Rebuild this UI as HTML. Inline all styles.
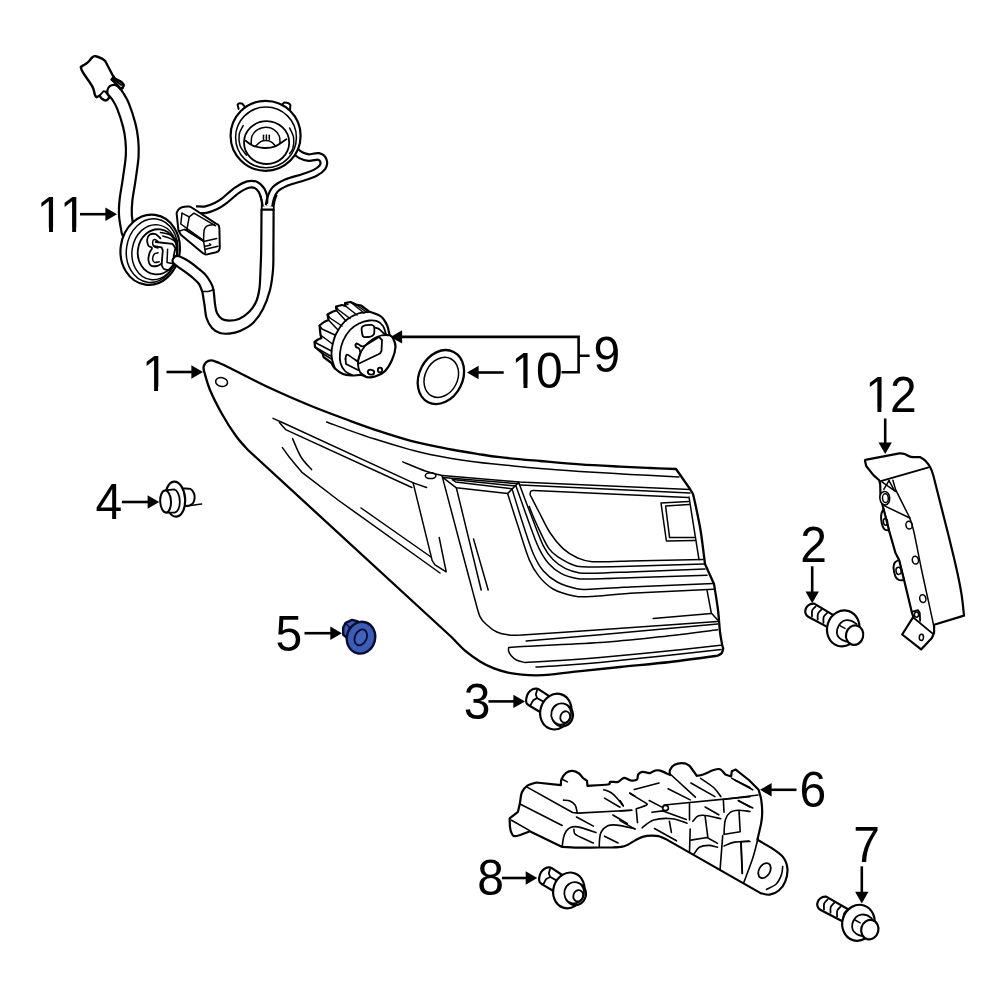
<!DOCTYPE html>
<html>
<head>
<meta charset="utf-8">
<title>Tail lamp parts diagram</title>
<style>
html,body{margin:0;padding:0;background:#fff;}
body{width:1000px;height:1000px;overflow:hidden;}
svg{display:block;will-change:transform;}
.lbl{font-family:"Liberation Sans",sans-serif;font-size:50px;fill:#000;}
.o{fill:none;stroke:#000;stroke-width:1.8;stroke-linecap:round;stroke-linejoin:round;}
.t{fill:none;stroke:#000;stroke-width:1.5;stroke-linecap:round;stroke-linejoin:round;}
.w{fill:#fff;stroke:#000;stroke-width:1.8;stroke-linecap:round;stroke-linejoin:round;}
.wt{fill:#fff;stroke:#000;stroke-width:1.5;stroke-linecap:round;stroke-linejoin:round;}
.k{fill:none;stroke:#000;stroke-width:2.3;stroke-linecap:round;stroke-linejoin:round;}
.a{fill:none;stroke:#000;stroke-width:2.6;}
.h{fill:#000;stroke:none;}
.c{fill:#fff;stroke:none;}
</style>
</head>
<body>
<svg width="1000" height="1000" viewBox="0 0 1000 1000">
<rect width="1000" height="1000" fill="#fff"/>

<!-- LABELS -->
<g class="lbl" id="labels">
<text transform="translate(34.9,231.8) scale(0.96,1)" x="1.98 26.08" y="0">11</text>
<text transform="translate(140.0,390.8) scale(0.96,1)" x="1.98" y="0">1</text>
<text transform="translate(95.6,518.8) scale(0.96,1)" x="0.00" y="0">4</text>
<text transform="translate(275.6,650.9) scale(0.96,1)" x="0.00" y="0">5</text>
<text transform="translate(463.8,718.9) scale(0.96,1)" x="0.00" y="0">3</text>
<text transform="translate(477.2,894.8) scale(0.96,1)" x="0.00" y="0">8</text>
<text transform="translate(509.4,388.0) scale(0.96,1)" x="1.98 27.81" y="0">10</text>
<text transform="translate(593.5,372.4) scale(0.96,1)" x="0.00" y="0">9</text>
<text transform="translate(863.3,411.8) scale(0.96,1)" x="1.98 27.81" y="0">12</text>
<text transform="translate(800.2,561.5) scale(0.96,1)" x="0.00" y="0">2</text>
<text transform="translate(799.6,807.2) scale(0.96,1)" x="0.00" y="0">6</text>
<text transform="translate(853.3,861.5) scale(0.96,1)" x="0.00" y="0">7</text>
</g>
<g id="trim">
<rect class="c" x="39.66" y="227.60" width="9.36" height="5"/>
<rect class="c" x="52.96" y="227.60" width="8.99" height="5"/>
<rect class="c" x="62.79" y="227.60" width="9.36" height="5"/>
<rect class="c" x="76.10" y="227.60" width="8.99" height="5"/>
<rect class="c" x="144.76" y="386.60" width="9.36" height="5"/>
<rect class="c" x="158.06" y="386.60" width="8.99" height="5"/>
<rect class="c" x="514.16" y="383.80" width="9.36" height="5"/>
<rect class="c" x="527.46" y="383.80" width="8.99" height="5"/>
<rect class="c" x="868.06" y="407.60" width="9.36" height="5"/>
<rect class="c" x="881.36" y="407.60" width="8.99" height="5"/>
</g>
<!-- ARROWS -->
<g id="arrows">
<path class="a" d="M80.0,214.2L106.4,214.2"/><path class="h" d="M117.0,214.2L105.4,220.9L105.4,207.5Z"/>
<path class="a" d="M166.5,372.0L192.4,372.0"/><path class="h" d="M203.0,372.0L191.4,378.7L191.4,365.3Z"/>
<path class="a" d="M121.9,502.0L148.6,502.0"/><path class="h" d="M159.2,502.0L147.6,508.7L147.6,495.3Z"/>
<path class="a" d="M304.5,633.2L331.3,633.2"/><path class="h" d="M341.9,633.2L330.3,639.9L330.3,626.5Z"/>
<path class="a" d="M488.4,701.4L514.4,701.4"/><path class="h" d="M525.0,701.4L513.4,708.1L513.4,694.7Z"/>
<path class="a" d="M501.9,878.0L526.7,878.0"/><path class="h" d="M537.3,878.0L525.7,884.7L525.7,871.3Z"/>
<path class="a" d="M503.7,372.5L477.6,372.5"/><path class="h" d="M467.0,372.5L478.6,365.8L478.6,379.2Z"/>
<path class="a" d="M796.5,789.8L770.6,789.8"/><path class="h" d="M760.0,789.8L771.6,783.1L771.6,796.5Z"/>
<path class="a" d="M885.2,418.5L885.2,443.4"/><path class="h" d="M885.2,454.0L878.5,442.4L891.9,442.4Z"/>
<path class="a" d="M812.2,566.3L812.2,592.6"/><path class="h" d="M812.2,603.2L805.5,591.6L818.9,591.6Z"/>
<path class="a" d="M861.8,866.3L861.8,892.8"/><path class="h" d="M861.8,903.4L855.1,891.8L868.5,891.8Z"/>
<path class="a" d="M401,336.9H578.6V372.3H561.5 M578.6,355.8H589.6" stroke-linejoin="miter"/><path class="h" d="M390.5,336.9L402.1,330.2V343.6Z"/>
</g>
<!-- lamp 1 -->
<path class="k" d="M204,371C203.9,370.3 203.3,368.4 203.6,367C203.9,365.6 204.8,363.5 206,362.4C207.2,361.3 209,360.4 211,360.4C213,360.4 216.8,362.1 218,362.4C220,363.3 221.3,363.7 230,368C238.7,372.3 256.7,381.8 270,388C283.3,394.2 296.7,400 310,405.5C323.3,411 338.3,416.5 350,420.8C361.7,425.1 370,428.1 380,431.4C390,434.7 401.3,438.2 410,440.6C418.7,443 424.7,444 432,445.6C439.3,447.2 446.5,448.6 454,450C461.5,451.4 469.3,452.6 477,453.8C484.7,455 489.5,456 500,457.2C510.5,458.4 526.7,459.8 540,461C553.3,462.2 566.7,463.5 580,464.4C593.3,465.3 608.3,466 620,466.6C631.7,467.2 640.7,467.6 650,468C659.3,468.4 671.7,468.8 676,469L690,489L693,494C693.7,497 695.7,505.5 697,512C698.3,518.5 699.7,524.3 701,533C702.3,541.7 704.3,558.8 705,564L714,584C714.7,588.3 717,602 718,610C719,618 719.3,626.3 720,632C720.7,637.7 721.5,641.2 722,644C722.5,646.8 723,647.8 723.2,648.5C723,649.2 722.7,651.8 721.8,653C720.9,654.2 718.3,655.2 717.6,655.7C709.7,656.8 686.3,660.1 670,662C653.7,663.9 635.3,665.4 620,667C604.7,668.6 589.7,670.1 578,671.4C566.3,672.7 557,674 550,674.7C543,675.4 540.7,675.4 536,675.4C531.3,675.4 526.7,675.2 522,674.7C517.3,674.2 512.7,673.7 508,672.6C503.3,671.5 498.7,670.3 494,668.4C489.3,666.5 484.8,664.4 480,661.4C475.2,658.4 469.7,654.6 465,650.6C460.3,646.6 454.2,639.7 452,637.5L248,450C246,447.7 240.3,442 236,436C231.7,430 226.3,421.7 222,414C217.7,406.3 213,397.2 210,390C207,382.8 205,374.2 204,371"/>
<ellipse class="t" cx="221.6" cy="382" rx="6" ry="4.4" transform="rotate(12 221.6 382)"/>
<path class="t" d="M273,418.4L284,423.2L413.3,482.9"/>
<path class="t" d="M279.4,422.6L285.6,429.6L411.9,487.5"/>
<path class="t" d="M292.6,438.6C294,441.7 297.8,451.8 301,457C304.2,462.2 309.8,467.5 311.6,469.6"/>
<path class="t" d="M282.4,447.6C283.7,449.3 286.7,453.9 290,458C293.3,462.1 300,470 302,472.4L338,500L440,573"/>
<path class="t" d="M361,508L431,557"/>
<path class="t" d="M326.6,422C330.5,423.4 342.1,427.8 350,430.6C357.9,433.4 364,435.6 374,438.8C384,442 400.7,447 410,449.6C419.3,452.2 420,452.5 430,454.4C440,456.3 456.7,459.3 470,461.2C483.3,463.1 498.3,464.4 510,465.6C521.7,466.8 528.3,467.5 540,468.5C551.7,469.5 565,470.4 580,471.4C595,472.4 613.5,473.5 630,474.4C646.5,475.3 670.8,476.6 679,477"/>
<path class="t" d="M402.8,461.9C406.5,463.4 418.6,468.7 425.2,471C431.8,473.3 439.5,474.8 442.4,475.6L519,482L690,489.6"/>
<ellipse class="t" cx="430.6" cy="475.7" rx="5.3" ry="2.9"/>
<path class="t" d="M413.3,482.9L426.6,487.5"/>
<path class="t" d="M413.3,483.6L432.2,560.6L435,564.8L446.2,571.8L439.2,537.5"/>
<path class="t" d="M442,475.6L459,540L471,585C471.6,587.2 473,592.7 474.5,598C476,603.3 477.9,612.1 480,616.6C482.1,621.1 484.2,622.4 487,625C489.8,627.6 493.3,630.4 496.8,632C500.3,633.6 503.8,634.3 508,634.8C512.2,635.3 506.7,635.8 522,635C537.3,634.2 587,630.7 600,629.8L717.6,621.4"/>
<path class="t" d="M456.4,488L481.2,590"/>
<path class="t" d="M473.5,538.9L488.2,590"/>
<path class="t" d="M443,477.6L456.4,487.8L507.6,493.6L519,482"/>
<path class="t" d="M443,477.6L519.2,483.8"/>
<path class="t" d="M452.4,479.6L516,486"/>
<path class="t" d="M452.4,479.6L455.6,482L512,488.8"/>
<path class="t" d="M507.6,493.6C509.3,499 514.4,515 518,526C521.6,537 525.7,551.2 529.2,559.6C532.7,568 535,571.5 539,576.4C543,581.3 547.2,585.7 553,589C558.8,592.3 567.8,594.7 574,596C580.2,597.3 580.7,597.1 590,596.6C599.3,596.1 623.3,593.8 630,593.2L713.4,589.2"/>
<path class="t" d="M512,488.8C513.9,495 520,515.1 523.6,526C527.2,536.9 530.1,546.5 533.4,554C536.7,561.5 539.2,566.1 543.2,570.8C547.2,575.5 551.6,579 557.2,582C562.8,585 571.3,587.5 576.8,588.7C582.3,589.9 581.1,589.5 590,589.2C598.9,588.9 623.3,587.3 630,586.9L713.4,583.6"/>
<path class="t" d="M516,486C518.2,492.2 525.4,512.8 529.2,523.2C533,533.6 535.7,541.6 539,548.4C542.3,555.2 545.1,559.6 548.8,563.8C552.5,568 556.7,571.1 561.4,573.6C566.1,576.1 572,577.6 576.8,578.5C581.6,579.4 581.1,579.1 590,579C598.9,578.9 623.3,578 630,577.8L707.1,575.2"/>
<path class="t" d="M519.2,483.8C521.3,489.4 528,507.3 532,517.6C536,527.9 539.7,538.6 543.2,545.6C546.7,552.6 549.3,555.8 553,559.6C556.7,563.5 561.2,566.5 565.6,568.7C570,570.9 574.7,572.1 579.6,572.9C584.5,573.6 586.6,573.4 595,573.2C603.4,573 624.2,572.1 630,571.9L705,568.9"/>
<path class="t" d="M529.2,506.4C530.4,509.2 532.9,516.2 536.2,523.2C539.5,530.2 544.8,542.6 548.8,548.4C552.8,554.2 555.8,555.4 560,558.2C564.2,561 569.3,563.8 574,565.2C578.7,566.7 578.7,566.7 588,566.9C597.3,567.1 623,566.4 630,566.3L703.6,564"/>
<path class="t" d="M688,497.6L534,490.4C533.5,490.5 531.7,490.3 531,491C530.3,491.7 530.2,493.9 530,494.5C531.5,497.4 535.6,505.6 539,512C542.4,518.4 546.2,526.9 550.2,533C554.2,539.1 558.4,544.3 562.8,548.4C567.2,552.5 571.9,555.3 576.8,557.5C581.7,559.7 583.3,561.1 592.2,561.7C601.1,562.3 623.7,561.1 630,561L702.9,559.5"/>
<path class="t" d="M520.5,485L690,493"/>
<path class="t" d="M689,497L699,559.6"/>
<path class="t" d="M689,501.6L661,503L666.4,541L695,540.6"/>
<path class="t" d="M689,504.4L665.6,506L669.6,537.6L694.4,537.6"/>
<path class="t" d="M707.1,590.6L711.3,613L717.6,620"/>
<path class="t" d="M653.2,618.6L711.3,613.5"/>
<path class="t" d="M526.2,641.1L600,634.7L717.6,623.9"/>
<path class="t" d="M717.6,629.8C708,631 679.6,634.7 660,636.8C640.4,638.9 621.8,641 600,642.6C578.2,644.2 540.8,645.6 529,646.2C527.2,646.3 521.4,646.6 518,646.8C514.6,647 510.2,647.3 508.7,647.4C508.7,648 508.2,649.6 508.6,651C509,652.4 509.7,654 511,655.5C512.3,657 514.1,658.8 516.4,660C518.7,661.2 523.4,662.1 524.8,662.5C530.7,662.2 547.5,661.4 560,660.6C572.5,659.8 583.3,659.1 600,657.6C616.7,656.1 639.9,653.9 660,651.8C680.1,649.7 710.3,646.3 720.4,645.2"/>
<path class="t" d="M536,667C540.8,666.7 554.3,666 565,665.2C575.7,664.5 584.2,664 600,662.5C615.8,661 639.8,658.4 660,656.2C680.2,654 710.9,650.5 721.1,649.4"/>
<!-- harness 11 -->
<path class="w" d="M80.8,67C81.2,66.7 82.3,65.9 83.2,65.4C84.1,64.9 85,64.5 86,63.8C87,63.1 88.1,62.1 89.2,61C90.3,59.9 91.3,58 92.4,57.2C93.5,56.4 94,56 95.6,56.2C97.2,56.4 100.4,57.8 102,58.6C103.6,59.4 104.7,60.6 105.2,61L113.2,76.2C113.5,76.6 113.5,77.6 114.8,78.6C116.1,79.6 119.7,80.9 121.2,82C122.7,83 123.2,84.5 123.6,85L122.4,88.2L119.6,87.8L114,89.8L107.6,91.8L106,92.2C106.5,93 109.2,95.6 109.2,97C109.2,98.4 107.2,100.1 106,100.4C104.8,100.7 103.1,99.6 102,98.8C100.9,98 100,96.1 99.6,95.6C99.1,95.8 97.2,97.3 96.4,97.2C95.6,97 95.1,95 94.8,94.6C94.4,93.3 94.4,90.3 92.4,86.6C90.4,82.9 84.7,75.5 82.8,72.2C80.9,68.9 81.1,67.9 80.8,67L80.8,67Z" style="stroke-width:2.4"/>
<path class="o" d="M99.6,95.6L103.6,91.2L106.8,91.9"/>
<path d="M113.7,91.2C114.3,92 116,93.5 117.6,96C119.1,98.5 121.1,101.2 123,106C124.9,110.8 127.7,119.3 129.2,125C130.7,130.7 131.3,134.8 131.8,140C132.3,145.2 132.6,149.3 132.2,156C131.8,162.7 130.1,172.7 129.1,180C128.1,187.3 126.6,194.2 126,200C125.4,205.8 125.1,209.7 125.4,215C125.7,220.3 127.6,229.2 128,232" fill="none" stroke="#000" stroke-width="15" stroke-linecap="round" stroke-linejoin="round"/>
<path d="M113.7,91.2C114.3,92 116,93.5 117.6,96C119.1,98.5 121.1,101.2 123,106C124.9,110.8 127.7,119.3 129.2,125C130.7,130.7 131.3,134.8 131.8,140C132.3,145.2 132.6,149.3 132.2,156C131.8,162.7 130.1,172.7 129.1,180C128.1,187.3 126.6,194.2 126,200C125.4,205.8 125.1,209.7 125.4,215C125.7,220.3 127.6,229.2 128,232" fill="none" stroke="#fff" stroke-width="10.6" stroke-linecap="round" stroke-linejoin="round"/>
<path class="w" d="M111.6,79.6L113.6,76.6C113.8,76.9 113.5,77.7 114.8,78.6C116.1,79.5 119.7,80.9 121.2,82C122.7,83 123.2,84.5 123.6,85L122.4,88.2L119.8,87.9L116.8,84.4L111.6,79.6Z" style="stroke-width:2.4"/>
<path class="o" d="M111.6,79.7C112.1,79.8 113.2,79.5 114.8,80.4C116.4,81.2 120.1,84.2 121.2,85"/>
<ellipse cx="150.2" cy="249.8" rx="29.6" ry="35.2" transform="rotate(8 150.2 249.8)" fill="#fff" stroke="#000" stroke-width="2.2"/>
<ellipse cx="152" cy="250.6" rx="25.6" ry="32" transform="rotate(8 152 250.6)" class="t"/>
<ellipse cx="154.4" cy="252.2" rx="22.4" ry="27.6" transform="rotate(8 154.4 252.2)" class="t"/>
<ellipse cx="157.4" cy="251.8" rx="19.6" ry="22.6" transform="rotate(8 157.4 251.8)" class="o"/>
<path class="o" d="M160.4,238.4C159.6,237.7 157.4,234.8 155.6,234.2C153.8,233.6 151,233.9 149.6,234.8C148.2,235.7 147.4,237.8 147.2,239.6C147,241.4 147.6,244.2 148.4,245.6C149.2,247 151.8,246.8 152,248C152.2,249.2 150.2,250.8 149.6,252.8C149,254.8 148.2,257.9 148.4,260C148.6,262.1 149.4,264.4 150.8,265.4C152.2,266.4 155,266.3 156.8,266C158.6,265.7 160.8,264 161.6,263.6"/>
<path class="t" d="M158,241.4C157.4,241.1 155.3,239.5 154.4,239.6C153.5,239.7 152.7,240.9 152.6,242C152.5,243.1 152.9,245.2 153.8,246.2C154.7,247.2 157.3,247.7 158,248"/>
<path class="t" d="M158,252.8C157.4,253 155.3,253 154.4,254C153.5,255 152.6,257.4 152.6,258.8C152.6,260.2 153.3,261.9 154.4,262.4C155.5,262.9 158.4,261.9 159.2,261.8"/>
<path class="o" d="M155.6,242L172.4,243.8L175.4,248L173.6,256.4"/>
<path class="o" d="M154.4,246.2L161.6,247.4L162.8,250.4L161.6,264.8C162,265.5 162.6,268.2 164,269C165.4,269.8 168.4,270 170,269.6C171.6,269.2 173,267.1 173.6,266.6"/>
<path class="t" d="M167.6,249.2L167,262.4L172.4,263.6"/>
<path class="t" d="M162.8,236C164,236.4 167.8,237.4 170,238.4C172.2,239.4 175,241.4 176,242"/>
<path class="t" d="M160.4,232.4C162,232.8 167.2,233.4 170,234.8C172.8,236.2 176,239.8 177.2,240.8"/>
<path d="M266,206C265.8,204.7 265.2,201 264.5,198.4C263.8,195.8 263,192.6 261.6,190.4C260.2,188.2 258.3,186 256,185C253.7,184 251.2,183.7 248,184.6C244.8,185.5 240.8,187.7 236.8,190.4C232.8,193.1 227.5,198.4 224,201C220.5,203.6 219,204.6 216,206C213,207.4 209.3,209 206,209.6C202.7,210.2 197.7,209.6 196,209.6" fill="none" stroke="#000" stroke-width="8.8" stroke-linecap="butt" stroke-linejoin="round"/>
<path d="M266,206C265.8,204.7 265.2,201 264.5,198.4C263.8,195.8 263,192.6 261.6,190.4C260.2,188.2 258.3,186 256,185C253.7,184 251.2,183.7 248,184.6C244.8,185.5 240.8,187.7 236.8,190.4C232.8,193.1 227.5,198.4 224,201C220.5,203.6 219,204.6 216,206C213,207.4 209.3,209 206,209.6C202.7,210.2 197.7,209.6 196,209.6" fill="none" stroke="#fff" stroke-width="4.4" stroke-linecap="butt" stroke-linejoin="round"/>
<path d="M269,206C269.3,204.7 269.6,201.2 270.6,198.4C271.6,195.6 272.6,192 275.2,189.4C277.8,186.8 281.9,184.6 286.4,182.6C290.9,180.6 297.6,179.2 302.4,177.6C307.2,176 311.9,174.5 315.2,172.8C318.5,171.1 321,169.2 322.4,167.2C323.8,165.1 324.1,162.3 323.4,160.5C322.7,158.7 320.8,156.9 318.4,156.4C316,155.9 311.7,157.8 308.8,157.6C305.9,157.4 303.3,156.5 300.8,155.2C298.3,153.9 295.1,150.9 294,150" fill="none" stroke="#000" stroke-width="8.8" stroke-linecap="butt" stroke-linejoin="round"/>
<path d="M269,206C269.3,204.7 269.6,201.2 270.6,198.4C271.6,195.6 272.6,192 275.2,189.4C277.8,186.8 281.9,184.6 286.4,182.6C290.9,180.6 297.6,179.2 302.4,177.6C307.2,176 311.9,174.5 315.2,172.8C318.5,171.1 321,169.2 322.4,167.2C323.8,165.1 324.1,162.3 323.4,160.5C322.7,158.7 320.8,156.9 318.4,156.4C316,155.9 311.7,157.8 308.8,157.6C305.9,157.4 303.3,156.5 300.8,155.2C298.3,153.9 295.1,150.9 294,150" fill="none" stroke="#fff" stroke-width="4.4" stroke-linecap="butt" stroke-linejoin="round"/>
<path class="w" d="M261.5,209.6C261.4,216.3 261.4,239.9 261.2,250C261,260.1 260.8,263.7 260.5,270C260.2,276.3 260.2,282.7 259.5,288C258.8,293.3 257.8,298 256,302C254.2,306 251.8,309.2 249,312C246.2,314.8 242.3,317.6 239,319C235.7,320.4 231.8,320.6 229,320.6C226.2,320.6 224,320.3 222,319C220,317.7 218.2,315.5 217,313C215.8,310.5 215.6,307.8 215,304C214.4,300.2 214.2,293.5 213.5,290C212.8,286.5 212.4,285.6 211,283C209.6,280.4 207.5,276.9 205,274.2C202.5,271.5 199,269 196,266.6C193,264.2 189.9,261.8 186.8,260C183.7,258.2 179.5,255.9 177.2,255.8C174.9,255.7 173.4,258.1 172.8,259.4C172.2,260.7 172.3,261.9 173.8,263.6C175.3,265.3 178.8,267.2 182,269.6C185.2,272 190.2,275.6 193,278C195.8,280.4 197.5,281.9 199,284C200.5,286.1 201.2,289 201.8,290.5C202.4,292 202.2,290.6 202.6,293C203,295.4 203.8,300.8 204.5,305C205.2,309.2 205.2,314.2 206.5,318C207.8,321.8 209.8,325.5 212,328C214.2,330.5 217.2,332.1 220,333C222.8,333.9 225.7,333.9 229,333.6C232.3,333.3 236,332.8 240,331C244,329.2 249.2,326.7 253,323C256.8,319.3 260.2,314.5 263,309C265.8,303.5 268.3,296.5 270,290C271.7,283.5 272.4,276.7 273,270C273.6,263.3 273.3,260.1 273.4,250C273.5,239.9 273.6,216.3 273.6,209.6L261.5,209.6Z" style="stroke-width:2.2"/>
<path class="t" d="M202.2,291.6C203.2,291.6 206.1,291.7 208,291.4C209.9,291.1 212.7,289.9 213.6,289.6"/>
<path d="M261.7,209.6 C261.7,204 262.4,201 260.6,196 M273.7,209.6 C273.7,204 274.4,200 276.6,195.5 M267.4,203 V196.5" class="o"/>
<path class="w" d="M176.6,213.2C176.9,212.6 177.5,210.6 178.4,209.6C179.3,208.6 180.2,207.7 182,207.2C183.8,206.7 187.2,206.3 189.2,206.6C191.2,206.9 193.2,208.6 194,209L215.6,223.4C216.1,223.7 218,224.3 218.6,225.2C219.2,226.1 219.3,228.2 219.4,228.8L219.8,248C219.6,248.5 219.2,250.3 218.6,251C218,251.7 216.6,252 216.2,252.2L206,254.6L202.4,252.8L180.8,234.8L178.4,230L176.6,213.2L176.6,213.2Z" style="stroke-width:2"/>
<path class="t" d="M182,213.2L189.2,216.8L186.8,230L203.6,241.4L205.4,252.8"/>
<path class="t" d="M189.2,216.8L194,213.2L215.6,225.8"/>
<path class="t" d="M203.6,241.4C203.7,239.5 203.6,232.6 204.2,230C204.8,227.4 205.5,226.7 207.2,225.8C208.9,224.9 213.2,224.8 214.4,224.6"/>
<path class="t" d="M182,213.2L180.8,224L202.4,239.6"/>
<path class="t" d="M179,231.2L184.4,229.4L203.6,241.4L216.8,238.4"/>
<path class="t" d="M184.4,229.4L186.8,230"/>
<path class="t" d="M205.4,246.2L210.8,245L209.6,243.8"/>
<path class="t" d="M205.4,249.2L218,246.2"/>
<path d="M238.6,109 L237.6,104.6 Q238.5,102.6 242.5,103.8 L245,107 M281.6,105.2 L284,102.6 Q289,102.4 290.4,105 L290,110" class="o" style="stroke-width:2"/>
<circle cx="265.6" cy="135.8" r="35" fill="#fff" stroke="#000" stroke-width="2.2"/>
<circle cx="266" cy="137.4" r="30.4" class="t"/>
<path class="t" d="M243.2,125.6C242.5,127.1 239.7,131.1 239.2,134.4C238.7,137.7 238.8,142.1 240,145.6C241.2,149.1 245.3,153.6 246.4,155.2"/>
<path class="t" d="M289.6,128C290.3,129.6 293.1,134.1 293.6,137.6C294.1,141.1 293.5,146.1 292.8,148.8C292.1,151.5 290.1,152.8 289.6,153.6"/>
<ellipse cx="266.6" cy="142.6" rx="22.6" ry="21.4" class="o"/>
<path class="o" d="M245.6,140.8C246.8,141.6 249.7,144.4 252.8,145.6C255.9,146.8 260.3,147.9 264,148C267.7,148.1 271.5,147.9 275.2,146.4C278.9,144.9 284.5,140.4 286.4,139.2"/>
<path class="t" d="M251.2,144C251.3,142.7 250.9,138.4 252,136C253.1,133.6 255.3,131.1 257.6,129.6C259.9,128.1 262.9,127.3 265.6,127.2C268.3,127.1 271.3,127.8 273.6,129.3C275.9,130.7 278.1,133.7 279.2,136C280.3,138.3 279.9,142 280,143.2"/>
<path class="t" d="M256,145.6C256.8,144.9 259.2,142.5 260.8,141.6C262.4,140.7 263.9,140.5 265.6,140.5C267.3,140.5 269.6,140.9 271.2,141.8C272.8,142.6 274.5,145 275.2,145.6"/>
<path class="t" d="M263.5,135.2L263.5,139.2"/>
<path class="t" d="M266.4,134.9L266.4,139.2"/>
<path class="t" d="M269.3,135.2L269.3,139.2"/>
<!-- ring 10 -->
<ellipse class="k" cx="440.9" cy="377.1" rx="21.7" ry="28.2" transform="rotate(27 440.9 377.1)"/>
<ellipse class="t" cx="441.3" cy="377.4" rx="16.2" ry="20.9" transform="rotate(27 441.3 377.4)"/>
<!-- socket 9 -->
<path class="w" d="M369,311.5L361,305.5L356,304.5L350.5,302L345,303L345.5,306L342,305L336,306.5L336.5,310.5L333,311.5L327.5,314.5L328.5,320L324,322L319.5,325.5L320.5,335L321.5,338L318,339.5L314.5,342L315,347L322.5,353.5L323.5,357L331.5,363C332.1,363.9 333.1,366.7 335,368.5C336.9,370.3 340.2,372.8 343,374C345.8,375.2 349,375.3 352,375.5C355,375.7 358.5,374.7 361,375C363.5,375.3 364.7,376.9 367,377.2C369.3,377.4 372,377.5 375,376.5C378,375.5 382.2,373.8 385,371C387.8,368.2 390.2,364 392,360C393.8,356 395.3,350.7 395.5,347C395.7,343.3 394,340 393,338C392,336 390.1,335.5 389.5,335C389.1,333.3 388.4,328.1 387,325C385.6,321.9 384,318.8 381,316.5C378,314.2 371,312.3 369,311.5L369,311.5Z" style="stroke-width:2.2"/>
<path class="t" d="M350.5,302L364,313"/>
<path class="t" d="M345.5,306L357,315"/>
<path class="t" d="M345,303L348,304.5"/>
<path class="t" d="M356,304.5L367,312.5"/>
<path class="t" d="M336,306.5L338,309.5L350,318.5"/>
<path class="t" d="M336.5,310.5L346,321"/>
<path class="t" d="M327.5,314.5L330,318L342,326"/>
<path class="t" d="M328.5,320L338,330"/>
<path class="t" d="M319.5,325.5L322,329L335,335"/>
<path class="t" d="M320.5,335L332.5,344"/>
<path class="t" d="M314.5,342L318,344L331.5,351"/>
<path class="t" d="M315,347L330.5,356"/>
<path class="t" d="M322.5,353.5L331.5,359"/>
<path class="o" d="M369,311.8C367,312.2 361,312.4 357,314C353,315.6 348.5,317.9 345,321.2C341.5,324.5 338.2,329.4 336,334C333.8,338.6 332.5,344.8 331.8,349C331.1,353.2 331.5,355.8 332,359C332.5,362.2 334.5,366.9 335,368.5"/>
<path class="o" d="M352,375C350.8,374.3 346.9,373 345,371C343.1,369 341.3,366 340.5,363C339.7,360 339.6,356.7 340,353C340.4,349.3 341.3,344.8 343,341C344.7,337.2 347.3,332.9 350,330C352.7,327.1 355.8,325.1 359,323.5C362.2,321.9 366,320.9 369,320.5C372,320.1 374.7,320.3 377,321.2C379.3,322.1 381.5,323.7 383,326C384.5,328.3 385.7,333.5 386.2,335"/>
<path class="o" d="M389.5,335C388.1,335.1 383.8,334.8 381,335.5C378.2,336.2 375.7,337.2 373,339C370.3,340.8 367.2,343.3 365,346C362.8,348.7 360.7,352 359.5,355C358.3,358 357.9,361.2 358,364C358.1,366.8 358.5,369.8 360,372C361.5,374.2 365.8,376.3 367,377.2"/>
<path class="o" d="M371.5,324.8C371.9,325 373.3,325.3 373.8,326C374.3,326.7 374.3,328.5 374.4,329L374.2,333.5C373.9,333.9 373.4,335.2 372.5,335.8C371.6,336.4 369.6,336.8 369,337L365,337.2C364.6,337 363.4,337.3 362.8,336C362.2,334.7 361.7,331 361.6,329.5C361.5,328 361.6,327.5 362.2,326.8C362.8,326.1 363.4,325.6 365,325.3C366.6,325 370.4,324.9 371.5,324.8Z"/>
<path class="o" d="M375,327.5C375.7,327.8 377.5,328 379,329C380.5,330 382.5,332.4 384,333.5C385.5,334.6 387.3,335.2 388,335.5"/>
<path class="o" d="M355.5,345C355.7,344.8 355.9,343.6 356.5,343.5C357.1,343.4 358.2,344.1 359,344.5C359.8,344.9 360,345.8 361,346C362,346.2 362,347 365,345.5C368,344 376.7,338.4 379,337L382,340L381.5,351L380,353.5L358,364"/>
<path class="o" d="M355.5,345C355.6,345.3 355.4,346.4 356,347C356.6,347.6 358.2,347.5 359,348.5C359.8,349.5 360.2,352.2 360.5,353L358,361"/>
<path class="o" d="M345.5,359C345.6,358.5 345.6,356.7 346,356C346.4,355.3 346.1,354.1 348,355C349.9,355.9 355.9,360.4 357.5,361.5"/>
<path class="o" d="M345.5,359L346,364L358,370"/>
<ellipse class="o" cx="371" cy="372.2" rx="3.2" ry="2.4" transform="rotate(10 371 372.2)"/>
<ellipse class="o" cx="380" cy="370" rx="2.2" ry="2.4"/>
<!-- bolt 3 -->
<path class="w" d="M549.2,696.2L539.6,689.8C539.1,689.6 537.6,688.7 536.4,688.6C535.2,688.5 533.8,688.6 532.4,689.4C531,690.2 529.3,691.6 528.2,693.2C527.2,694.8 526.4,697.3 526.2,699C525.9,700.7 526.1,702 526.6,703.2C527.2,704.3 529.1,705.4 529.6,705.8L540.4,712.2L549.2,696.2Z" style="stroke-width:2.2"/>
<path class="o" d="M537,690.4C536.9,691.1 535.9,693.3 535.9,694.6C535.9,695.9 537.3,697.1 536.9,698C536.4,699 534.3,699.2 533.2,700.4C532.1,701.7 530.9,704.6 530.5,705.4"/>
<path class="o" d="M536.9,698L545.2,702.6"/>
<ellipse class="w" cx="555.8" cy="711.6" rx="15.4" ry="18.1" transform="rotate(18 555.8 711.6)" style="stroke-width:2.2"/>
<ellipse class="w" cx="562.8" cy="715.4" rx="10.1" ry="11" transform="rotate(15 562.8 715.4)" style="stroke-width:2.2"/>
<ellipse class="w" cx="561.2" cy="714" rx="9.9" ry="10.7" transform="rotate(15 561.2 714)"/>
<ellipse class="o" cx="565.2" cy="717" rx="4.8" ry="5.8" transform="rotate(18 565.2 717)"/>
<!-- bolt 8 -->
<path class="w" d="M562.2,875L552.6,868.6C552.1,868.4 550.6,867.5 549.4,867.4C548.2,867.3 546.8,867.4 545.4,868.2C544,869 542.3,870.4 541.2,872C540.2,873.6 539.4,876.1 539.2,877.8C538.9,879.5 539.1,880.8 539.6,882C540.2,883.1 542.1,884.2 542.6,884.6L553.4,891L562.2,875Z" style="stroke-width:2.2"/>
<path class="o" d="M550,869.2C549.9,869.9 548.9,872.1 548.9,873.4C548.9,874.7 550.3,875.9 549.9,876.8C549.4,877.8 547.3,878 546.2,879.2C545.1,880.5 543.9,883.4 543.5,884.2"/>
<path class="o" d="M549.9,876.8L558.2,881.4"/>
<ellipse class="w" cx="568.8" cy="890.4" rx="15.4" ry="18.1" transform="rotate(18 568.8 890.4)" style="stroke-width:2.2"/>
<ellipse class="w" cx="575.8" cy="894.2" rx="10.1" ry="11" transform="rotate(15 575.8 894.2)" style="stroke-width:2.2"/>
<ellipse class="w" cx="574.2" cy="892.8" rx="9.9" ry="10.7" transform="rotate(15 574.2 892.8)"/>
<ellipse class="o" cx="578.2" cy="895.8" rx="4.8" ry="5.8" transform="rotate(18 578.2 895.8)"/>
<!-- bolt 2 -->
<path class="w" d="M834.2,615.6L814.2,603.6C813.5,603.7 811.5,603.6 810.2,604.2C808.9,604.8 807.4,606 806.6,607.2C805.8,608.4 805.3,610.3 805.2,611.6C805.2,612.9 805.7,613.9 806.2,614.8C806.7,615.7 807.9,616.5 808.2,616.8L828.6,627.6L834.2,615.6Z" style="stroke-width:2.2"/>
<path class="o" d="M815.6,606.4C815.1,607.1 812.8,608.7 812.2,610.4C811.6,612.1 812,615.4 812,616.4"/>
<path class="o" d="M821.4,609.6C820.8,610.3 818.6,611.9 818,613.6C817.3,615.3 817.8,618.6 817.7,619.6"/>
<path class="o" d="M827.2,612.8C826.6,613.5 824.3,615.1 823.7,616.8C823.1,618.5 823.5,621.8 823.5,622.8"/>
<path class="o" d="M832.9,616C832.3,616.7 830.1,618.3 829.5,620C828.9,621.7 829.3,625 829.2,626"/>
<ellipse class="w" cx="843.2" cy="628.4" rx="16" ry="18.2" transform="rotate(18 843.2 628.4)" style="stroke-width:2.2"/>
<path class="o" d="M856.6,624C855.7,623.5 853.1,621.4 851.4,620.8C849.7,620.2 848,619.8 846.2,620.2C844.4,620.5 842.3,621.3 840.8,622.8C839.3,624.3 837.8,627.1 837.2,629.2C836.7,631.3 836.9,633.9 837.6,635.6C838.3,637.3 839.9,638.6 841.4,639.6C842.9,640.6 845.7,641.3 846.6,641.6"/>
<path class="t" d="M839.8,625.6L845,628.4"/>
<ellipse class="w" cx="854.6" cy="635.2" rx="8.6" ry="9.8" transform="rotate(15 854.6 635.2)" style="stroke-width:2.2"/>
<!-- bolt 7 -->
<path class="w" d="M849.4,910L826.2,896.6C825.5,896.7 823.5,896.6 822.2,897.2C820.9,897.8 819.4,899 818.6,900.2C817.8,901.4 817.3,903.3 817.2,904.6C817.2,905.9 817.7,906.9 818.2,907.8C818.7,908.7 819.9,909.5 820.2,909.8L843.8,922L849.4,910Z" style="stroke-width:2.2"/>
<path class="o" d="M827.6,899.4C827.1,900.1 824.8,901.7 824.2,903.4C823.6,905.1 824,908.4 824,909.4"/>
<path class="o" d="M834.2,902.9C833.6,903.6 831.4,905.3 830.8,906.9C830.1,908.6 830.6,911.9 830.5,912.9"/>
<path class="o" d="M840.8,906.5C840.2,907.2 837.9,908.9 837.3,910.5C836.7,912.2 837.1,915.5 837.1,916.5"/>
<path class="o" d="M847.3,910C846.7,910.7 844.5,912.4 843.9,914C843.3,915.7 843.7,919 843.6,920"/>
<ellipse class="w" cx="858.4" cy="922.8" rx="16" ry="18.2" transform="rotate(18 858.4 922.8)" style="stroke-width:2.2"/>
<path class="o" d="M871.8,918.4C870.9,917.9 868.3,915.9 866.6,915.2C864.9,914.6 863.2,914.3 861.4,914.6C859.6,914.9 857.5,915.7 856,917.2C854.5,918.7 853,921.5 852.4,923.6C851.9,925.8 852.1,928.3 852.8,930C853.5,931.8 855.1,933 856.6,934C858.1,935 860.9,935.7 861.8,936"/>
<path class="t" d="M855,920L860.2,922.8"/>
<ellipse class="w" cx="869.8" cy="929.6" rx="8.6" ry="9.8" transform="rotate(15 869.8 929.6)" style="stroke-width:2.2"/>
<!-- clip 4 -->
<path class="w" d="M182.4,488.4C183.7,488.5 188.5,488.1 190.4,488.9C192.3,489.7 193.2,491.7 193.9,493.2C194.6,494.7 194.7,496.4 194.6,498C194.5,499.6 194.1,501.5 193.3,502.8C192.5,504.1 190.2,505.1 189.6,505.5L184,506.3L182.4,488.4Z" style="stroke-width:2"/>
<path class="t" d="M184.8,506.3L201.6,504.1"/>
<ellipse class="w" cx="175.2" cy="499.1" rx="9.9" ry="17.6" transform="rotate(-4 175.2 499.1)" style="stroke-width:2.2"/>
<path class="w" d="M165.6,490.4 L174.2,489.4 A5.8,11.6 -3 0 1 174.6,512.5 L165.8,512.6 Z"/>
<ellipse class="w" cx="165.6" cy="501.5" rx="5.4" ry="10.9" transform="rotate(-3 165.6 501.5)" style="stroke-width:2"/>
<!-- nut 5 -->
<path class="w" d="M343.2,627.6L345.6,622.8L352,619.9L357.9,621.5L362.4,628.4L356,638L347.2,638L343.2,634.8L343.2,627.6Z" style="fill:#3d5cb6;stroke:#080c30;stroke-width:2.4"/>
<path class="t" d="M345.6,622.8L349.6,627.6L347.7,637.2" style="stroke:#0a0f3c"/>
<path class="t" d="M349.6,627.6L356,624.4" style="stroke:#0a0f3c"/>
<ellipse class="w" cx="361" cy="637.7" rx="14.1" ry="16" transform="rotate(15 361 637.7)" style="fill:#3d5cb6;stroke:#080c30;stroke-width:2.4"/>
<ellipse class="o" cx="360.8" cy="637.4" rx="5.8" ry="8.3" transform="rotate(25 360.8 637.4)" style="fill:#4162bd;stroke:#080c30;stroke-width:1.8"/>
<!-- bracket 6 -->
<path class="w" d="M509.6,818.3C509.7,819.6 509.7,823.9 509.9,826.1C510.1,828.3 510.3,829.7 510.9,831.3C511.5,832.9 512.1,835.2 513.5,835.9C514.9,836.5 516.6,836 519.3,835.2C522,834.4 528,831.9 529.7,831.3L562.2,846.9C565.2,847 574.3,847.6 580.4,847.7C586.5,847.8 593.2,847.5 598.6,847.5C604,847.5 608.9,847.5 612.9,847.4C616.9,847.2 620.1,847 622.6,846.6C625.1,846.2 625.6,845.8 627.8,844.7C630,843.6 633,841.5 635.6,840.1C638.2,838.8 640.8,837.4 643.4,836.6C646,835.9 648.6,835.7 651.2,835.6C653.8,835.5 656.6,835.7 659,836.2C661.4,836.8 664.4,838.5 665.5,838.9L760.6,893.1C762.1,893.4 766.7,895.1 769.7,894.7C772.7,894.3 776.2,892.7 778.8,890.5C781.4,888.3 783.9,885.1 785.3,881.4C786.7,877.7 787.8,872.5 787.4,868.4C787,864.3 785.4,860.2 782.7,856.7C780,853.2 773,849.1 771,847.6L757.4,839.8C758,837 760.4,827.4 761.2,822.9C762,818.4 762.2,816.4 762.2,812.5C762.2,808.6 761.8,803.3 761.2,799.5C760.6,795.7 759,791.4 758.6,789.8L748.9,780L735.7,769.6L731.8,771.2L731.1,776.5L725.3,774.5C724.4,773.6 722,770 720.1,769.3C718.2,768.5 716.4,769.1 713.6,770C710.8,770.9 706,773.5 703.2,774.5C700.4,775.5 697.8,775.6 696.7,775.8C695.4,774.1 691.3,767.5 688.9,765.4C686.5,763.3 684.8,763.2 682.4,763.1C680,763 676.7,763.6 674.6,764.8C672.5,765.9 670.8,768.3 670,770C669.2,771.7 670,774.2 670,775.1C668.4,774.4 662.8,771.4 660.3,770.6C657.8,769.9 656.8,770.2 655.1,770.6C653.4,771 650.8,772.8 649.9,773.2C648.6,773 644,771.7 642.1,771.9C640.2,772.1 639.1,773.2 638.2,774.5C637.3,775.8 638.2,778.7 636.9,779.7C635.6,780.7 632.6,780.7 630.4,780.4C628.2,780.1 625.9,777.5 623.9,777.8C621.9,778 620.4,781.2 618.1,781.9C615.8,782.6 612,781.5 610.3,781.9C608.6,782.3 611.5,783.9 607.7,784.5C603.9,785.1 590.9,785.6 587.5,785.8L586.9,780.6C586.2,780.2 584.3,779.2 583,778C581.7,776.8 580.8,774.7 579.1,773.5C577.4,772.3 574.8,771 572.6,770.9C570.4,770.8 568,771.4 566.1,772.8C564.2,774.2 562.4,777.2 561.5,779.3C560.6,781.3 561,784.1 560.9,785.1L536.2,782.5C534.7,783 529.5,784.2 527.1,785.8C524.7,787.4 523.1,789.5 521.9,792.3C520.7,795.1 520.6,799.5 520,802.7C519.4,806 518.3,810.3 518,811.8L509.6,818.3Z" style="stroke-width:2.2"/>
<path class="t" style="stroke-width:1.6" d="M527.1,787.1L572.6,812.5L577.8,813.1L631.8,810.2"/>
<path class="t" style="stroke-width:1.6" d="M520,804L562.2,825.5"/>
<path class="t" style="stroke-width:1.6" d="M511.5,820.2L529.7,830.6"/>
<path class="t" style="stroke-width:1.6" d="M563.5,800.1C564.6,800.3 568,800.3 570,801.1C572,802 574,803.5 575.2,805.3C576.4,807.1 576.8,810.9 577.1,812.1"/>
<path class="t" style="stroke-width:1.6" d="M576.5,817L593.4,826.1"/>
<path class="t" style="stroke-width:1.6" d="M612.9,815L627.2,823.5"/>
<path class="t" style="stroke-width:1.6" d="M603.8,789.7C605.1,790.2 609.2,791.3 611.6,793C614,794.6 616.2,797.3 618.1,799.5C620,801.6 622.4,804.9 623.3,806"/>
<path class="t" style="stroke-width:1.6" d="M604.5,798.1L620,807.2"/>
<path class="t" style="stroke-width:1.6" d="M629.8,793L635,796.2"/>
<path class="t" style="stroke-width:1.6" d="M562.2,846.2C562.4,844.8 562.9,840.3 563.5,837.8C564.1,835.3 565,833 566.1,831.3C567.2,829.6 568,828.4 570,827.7C572,826.9 573.5,826.1 577.8,826.9C582.1,827.7 593,831.6 596,832.6"/>
<path class="t" style="stroke-width:1.6" d="M573.9,829.4C574,830 573.9,832.2 574.5,833.2C575.2,834.3 574.7,834.2 577.8,835.9C580.9,837.5 590.8,841.8 593.4,843"/>
<path class="t" style="stroke-width:1.6" d="M599.2,847.2C599.3,845.8 599.3,841.6 599.6,839.1C600,836.6 599.9,834.2 601.2,832C602.5,829.7 605.1,827 607.7,825.8C610.3,824.7 612.2,824.6 616.8,825.1C621.3,825.5 632,828.1 635,828.7"/>
<path class="t" style="stroke-width:1.6" d="M604.5,836.2L618.1,843"/>
<path class="t" style="stroke-width:1.6" d="M562.2,779.3L567.4,781.9"/>
<path class="t" style="stroke-width:1.6" d="M634.3,789.5L659,783"/>
<path class="t" style="stroke-width:1.6" d="M629.8,793.4L646,803.1C646.1,803.4 648.3,804.1 646.6,805C645,806 638,808.3 636.2,809L637.5,822.6"/>
<path class="t" style="stroke-width:1.6" d="M620,810.9L631.7,810.2"/>
<path class="t" style="stroke-width:1.6" d="M620,820.6L635,829.1"/>
<path class="t" style="stroke-width:1.6" d="M649.2,800.5L662.9,807.6"/>
<path class="t" style="stroke-width:1.6" d="M651.9,812.2L662.9,810.9L686.3,819.4"/>
<path class="t" style="stroke-width:1.6" d="M664.2,805L750,796.6"/>
<path class="t" style="stroke-width:1.6" d="M668.1,788.8L690.2,799.9"/>
<path class="t" style="stroke-width:1.6" d="M670.7,774.5L695.4,797.2"/>
<path class="t" style="stroke-width:1.6" d="M690.9,783L714.9,796.6"/>
<path class="t" style="stroke-width:1.6" d="M700.6,778.4C702.8,779.9 710.2,784.5 713.6,787.5C717,790.5 719.6,795.1 720.8,796.6"/>
<path class="t" style="stroke-width:1.6" d="M731.8,778.4L750,787.5"/>
<path class="t" style="stroke-width:1.6" d="M642.1,827.8C644,826.5 648.8,821.5 653.8,820C658.8,818.5 666.5,818.2 672,818.7C677.5,819.2 684.5,822.5 687,823.2"/>
<path class="t" style="stroke-width:1.6" d="M669.4,821.3L671.4,832.4"/>
<path class="t" style="stroke-width:1.6" d="M654.5,828.5L676.5,840.8"/>
<path class="t" style="stroke-width:1.6" d="M689.5,803.8L689.5,820"/>
<path class="t" style="stroke-width:1.6" d="M690.2,829.1L689.5,851.9"/>
<path class="t" style="stroke-width:1.6" d="M692.8,821.3C693.7,820.4 695.8,817.1 698,816.1C700.2,815.1 702,815 705.8,815.5C709.6,815.9 718.3,818.2 720.8,818.7"/>
<path class="t" style="stroke-width:1.6" d="M705.1,816.1L707.8,836.9"/>
<path class="t" style="stroke-width:1.6" d="M690.9,840.1L707.1,837.5L717.5,843.4"/>
<path class="t" style="stroke-width:1.6" d="M694.1,853.8C695,852.7 696.9,848.7 699.3,847.3C701.7,845.9 705.4,845.4 708.4,845.4C711.4,845.4 716,847 717.5,847.3"/>
<path class="t" style="stroke-width:1.6" d="M705.1,807L718.8,814.8"/>
<path class="t" style="stroke-width:1.6" d="M723.4,800.5L724,812.2"/>
<path class="t" style="stroke-width:1.6" d="M724,834.3C724.2,831.9 724.2,823.7 725.3,820C726.4,816.3 728.3,813.8 730.5,812.2C732.7,810.6 735,810.4 738.3,810.2C741.5,810.1 748,811.3 750,811.5"/>
<path class="t" style="stroke-width:1.6" d="M739,810.9L740.2,831.7L724.6,834.3"/>
<path class="t" style="stroke-width:1.6" d="M724,846C725.7,845.4 730.1,842.9 734.4,842.1C738.7,841.3 747.4,841.6 750,841.5"/>
<path class="t" style="stroke-width:1.6" d="M722.7,835.6L720.1,869.4"/>
<path class="t" style="stroke-width:1.6" d="M740.9,843.4L742.2,873.3"/>
<path class="t" style="stroke-width:1.6" d="M738.3,800.5L750,807"/>
<path class="t" style="stroke-width:1.6" d="M620,800.5L623.2,805.7"/>
<ellipse class="t" style="stroke-width:1.6" cx="665.5" cy="808" rx="2.9" ry="2.6"/>
<path class="t" style="stroke-width:1.6" d="M758,838.5C757.1,841.8 755.2,850.6 752.8,858C750.4,865.4 745.2,878.6 743.7,882.7"/>
<path class="t" style="stroke-width:1.6" d="M782.7,866.5C782.5,867.9 782.5,872 781.4,874.9C780.3,877.8 778.7,881.6 776.2,884C773.7,886.4 768.1,888.6 766.5,889.5"/>
<path class="t" style="stroke-width:1.6" d="M741.1,842.4L742.4,873.6"/>
<path class="t" style="stroke-width:1.6" d="M748.9,841.1L739.8,841.8"/>
<ellipse class="o" cx="764.5" cy="870.6" rx="5.5" ry="8.1" transform="rotate(30 764.5 870.6)"/>
<path class="t" style="stroke-width:1.6" d="M734.6,780L752.8,789.8"/>
<path class="t" style="stroke-width:1.6" d="M738.5,800.8L752.8,808"/>
<path class="t" style="stroke-width:1.6" d="M758,795L722.9,799.5"/>
<!-- bracket 12 -->
<path class="w" d="M865,460.8L865.3,459.8L899.4,453.3C900.3,453.4 902.6,453.4 904.6,454C906.6,454.6 908.5,456.4 911.1,456.9C913.7,457.4 918.7,457.1 920.2,457.2C921.1,457.8 923.7,459 925.4,460.8C927.1,462.6 929.3,465.5 930.6,467.9C931.9,470.3 932.8,473.9 933.2,475.1L948.4,535C949.7,540.4 954,557.8 956.2,567.5C958.4,577.2 960.1,585.5 961.4,593.5C962.7,601.5 963.6,611.9 964,615.6L934.1,624.7L934.1,632.5L932.1,637.7L921.1,649.4L902.2,634.5L913.3,616.9L912,613L904.2,580.5L899,559.7L895.5,553.1L889,530.4L883.5,508.9L880.5,497.2L880.2,484.2L879.2,480.3L873.4,475.1L866.2,466L865,460.8Z" style="stroke-width:2.2"/>
<path class="o" d="M879.9,481.3L928.6,467.3"/>
<path class="t" d="M892.9,480.3L895.5,489.4L909.8,518C910.4,520.2 911.8,522.8 913.7,531C915.6,539.2 918.8,556.4 921.1,567.5C923.4,578.6 925.5,587.9 927.6,597.4C929.7,606.9 932.5,620.2 933.5,624.7"/>
<path class="t" d="M933.5,624.7L934.1,632.5"/>
<path class="t" d="M881.9,481.9L895.5,491.4"/>
<path class="t" d="M889,480.6L883.8,489.4"/>
<path class="t" d="M889,480.6L894.2,490.1"/>
<path class="t" d="M884.1,505.6L909.8,518"/>
<ellipse class="wt" cx="884.8" cy="498.2" rx="4.9" ry="6.8" transform="rotate(-5 884.8 498.2)"/>
<ellipse class="t" cx="885.4" cy="498.2" rx="2.9" ry="4.4" transform="rotate(-5 885.4 498.2)"/>
<ellipse class="t" cx="909.1" cy="525.1" rx="3.2" ry="3.9" transform="rotate(-10 909.1 525.1)"/>
<ellipse class="t" cx="915.4" cy="560.2" rx="3.1" ry="3.9" transform="rotate(-10 915.4 560.2)"/>
<ellipse class="t" cx="922.8" cy="598.7" rx="3.1" ry="3.9" transform="rotate(-10 922.8 598.7)"/>
<path class="w" d="M883.5,508.9C883.2,509.7 881.9,511.7 881.5,513.5C881.1,515.2 881,517.2 881.2,519.3C881.4,521.4 881.9,524.1 882.5,525.8C883.1,527.5 884,528.9 885.1,529.7C886.2,530.5 888.4,530.2 889,530.4L883.5,508.9Z" style="stroke-width:2"/>
<ellipse class="t" cx="885.5" cy="521.9" rx="2.1" ry="3.4" transform="rotate(-8 885.5 521.9)"/>
<path class="w" d="M899,559.7C898.3,560.2 895.8,561.3 894.8,562.6C893.9,563.9 893.5,565.2 893.5,567.5C893.6,569.8 894.5,574.3 895.4,576.3C896.2,578.4 897.3,579.2 898.7,579.9C900.2,580.5 903.1,580.1 903.9,580.1L899,559.7Z" style="stroke-width:2"/>
<ellipse class="t" cx="898.6" cy="570.8" rx="2.6" ry="3.6" transform="rotate(-8 898.6 570.8)"/>
<path class="o" d="M913.3,617.5L932.1,633.1"/>
<path class="o" d="M912.6,611.7L917.9,610.1L919.8,613L920.1,620.8"/>
<ellipse class="t" cx="916.5" cy="614.6" rx="2.1" ry="2.6"/>
<ellipse class="t" cx="921.4" cy="637.3" rx="2.1" ry="3.1" transform="rotate(5 921.4 637.3)"/>
</svg>
</body>
</html>
